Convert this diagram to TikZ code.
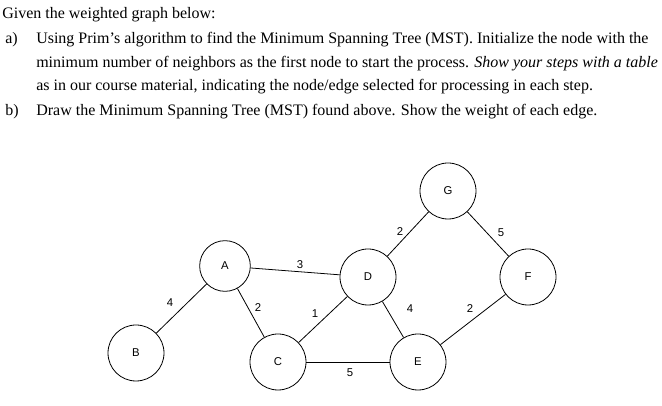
\documentclass[tikz,border=0pt]{standalone}
\usepackage{fontspec}
\setmainfont{Liberation Serif}
\setsansfont{Liberation Sans}
\begin{document}
\begin{tikzpicture}[x=0.75pt,y=-0.75pt,
  vtx/.style={draw,circle,minimum size=42pt,inner sep=0pt,font=\sffamily\fontsize{8.5}{10}\selectfont,line width=0.6pt},
  wt/.style={font=\sffamily\fontsize{8.5}{10}\selectfont,inner sep=1pt},
  txt/.style={anchor=base west,inner sep=0pt,font=\fontsize{12}{14}\selectfont},
  edge/.style={line width=0.6pt}]
\useasboundingbox (0,0) rectangle (662,406);
\node[txt] (l0) at (2,19) {Given the weighted graph below:};
\node[txt] (l1a) at (5,44) {a)};
\node[txt] (l1) at (36,44) {Using Prim’s algorithm to find the Minimum Spanning Tree (MST). Initialize the node with the};
\node[txt] (l2) at (36,68) {minimum number of neighbors as the first node to start the process. \textit{Show your steps with a table}};
\node[txt] (l3) at (36,91) {as in our course material, indicating the node/edge selected for processing in each step.};
\node[txt] (l4a) at (5,116) {b)};
\node[txt] (l4) at (36,116) {Draw the Minimum Spanning Tree (MST) found above. Show the weight of each edge.};
\node[vtx] (G) at (448,191) {G};
\node[vtx,minimum size=38pt] (A) at (225,266) {A};
\node[vtx] (D) at (368,277) {D};
\node[vtx] (F) at (528,277) {F};
\node[vtx] (B) at (136,353) {B};
\node[vtx] (C) at (278,362) {C};
\node[vtx] (E) at (418,362) {E};
\draw[edge] (B) -- (A);
\draw[edge] (A) -- (D);
\draw[edge] (A) -- (C);
\draw[edge] (C) -- (D);
\draw[edge] (D) -- (G);
\draw[edge] (G) -- (F);
\draw[edge] (D) -- (E);
\draw[edge] (E) -- (F);
\draw[edge] (C) -- (E);
\node[wt] (w1) at (170,303) {4};
\node[wt] (w2) at (300,265) {3};
\node[wt] (w3) at (258,308) {2};
\node[wt] (w4) at (315,314) {1};
\node[wt] (w5) at (410,309) {4};
\node[wt] (w6) at (400,232) {2};
\node[wt] (w7) at (501,233) {5};
\node[wt] (w8) at (470,309) {2};
\node[wt] (w9) at (350,373) {5};
\end{tikzpicture}
\end{document}
